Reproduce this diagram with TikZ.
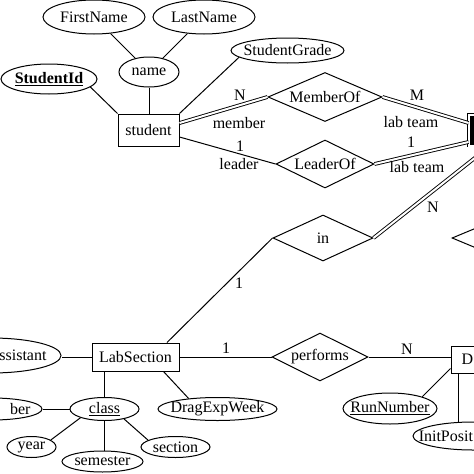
\documentclass[tikz,border=0pt]{standalone}
\usepackage{fontspec}
\setmainfont{Liberation Serif}
\usetikzlibrary{shapes.geometric}
\begin{document}
\begin{tikzpicture}[x=1pt,y=-1pt,line width=1pt,
  every node/.style={font=\fontsize{16}{19}\selectfont},
  attr/.style={ellipse,draw,inner sep=0pt},
  ent/.style={rectangle,draw,inner sep=1pt},
  rel/.style={diamond,draw,inner sep=0pt},
  dbl/.style={double,double distance=2pt,line width=0.9pt},
  lbl/.style={inner sep=0pt}]
\useasboundingbox (0,0) rectangle (474,474);
\clip (0,0) rectangle (474,474);
% ---------- student part ----------
\node[attr,minimum width=102pt,minimum height=34pt,label=center:FirstName] (fn) at (94,17) {};
\node[attr,minimum width=102pt,minimum height=34pt,label=center:LastName] (ln) at (204,17) {};
\node[attr,minimum width=60pt,minimum height=30pt,label=center:name] (nm) at (149,72) {};
\node[attr,minimum width=96pt,minimum height=30pt,label={center:\textbf{\underline{StudentId}}}] (sid) at (49,79) {};
\node[attr,minimum width=113pt,minimum height=25pt,label=center:StudentGrade] (sg) at (287.5,50.5) {};
\node[ent,minimum width=61pt,minimum height=32pt] (st) at (148.5,130) {student};
\node[rel,minimum width=114pt,minimum height=49pt,label=center:MemberOf] (mo) at (325,97) {};
\node[rel,minimum width=98pt,minimum height=48pt,label=center:LeaderOf] (lo) at (325,164) {};
\node[draw,double,double distance=2pt,line width=0.9pt,fill=black,minimum width=80pt,minimum height=31pt,inner sep=0pt] (lt) at (509,130) {};
\node[rel,minimum width=100pt,minimum height=46pt,label=center:in] (inr) at (323,238) {};
\node[rel,minimum width=110pt,minimum height=46pt] (rd) at (507,238) {};
\coordinate (ltb) at (490,146);
% ---------- lab section part ----------
\node[ent,minimum width=87pt,minimum height=28pt] (ls) at (135.5,357) {LabSection};
\node[attr,minimum width=140pt,minimum height=35pt] (asst) at (-9,355.5) {};
\node[lbl,anchor=east] (asstt) at (47,355.5) {ssistant};
\node[attr,minimum width=69pt,minimum height=23pt,label={center:\underline{class}}] (cls) at (104.5,409) {};
\node[attr,minimum width=100pt,minimum height=22pt] (ber) at (-8,409) {};
\node[lbl,anchor=east] (bert) at (31,409) {ber};
\node[attr,minimum width=49pt,minimum height=21pt,label=center:year] (yr) at (31.5,447) {};
\node[attr,minimum width=81pt,minimum height=21pt,label=center:semester] (sem) at (102.5,461.5) {};
\node[attr,minimum width=69pt,minimum height=21pt,label=center:section] (sec) at (175.5,447) {};
\node[attr,minimum width=119pt,minimum height=23pt,label=center:DragExpWeek] (dew) at (217.5,409) {};
\node[rel,minimum width=96pt,minimum height=48pt,label=center:performs] (pf) at (320,357) {};
\node[ent,minimum width=80pt,minimum height=27pt,inner sep=0pt] (dr) at (491,359.5) {};
\node[lbl,anchor=west] (drt) at (461,359.5) {D};
\node[attr,minimum width=94pt,minimum height=31pt,label={center:\underline{RunNumber}}] (rn) at (390,408.5) {};
\node[attr,minimum width=120pt,minimum height=28pt] (ip) at (473,436) {};
\node[lbl,anchor=east] (ipt) at (473.5,436) {InitPosit};
% ---------- connectors ----------
\draw (fn) -- (nm);
\draw (ln) -- (nm);
\draw (nm.south) -- (nm.south |- st.north);
\draw (sid.-11) -- (st.north west);
\draw (sg.188) -- (st.north east);
\draw[dbl] ([yshift=7pt]st.east) -- (mo.west);
\draw ([yshift=-7pt]st.east) -- (lo.west);
\draw[dbl] (mo.east) -- ([yshift=7pt]lt.west);
\draw[dbl] (lo.east) -- ([yshift=-12pt]lt.west);
\draw[dbl] (inr.east) -- (ltb);
\draw ([xshift=31.5pt]ls.north) -- (inr.west);
\draw (ls.east) -- (pf.west);
\draw (pf.east) -- (pf.east -| dr.west);
\draw (ls.west) -- (ls.west -| asst.east);
\draw (ls.south -| cls.north) -- (cls.north);
\draw ([xshift=-16pt]ls.south east) -- (dew.160);
\draw (cls.west) -- (cls.west -| ber.east);
\draw (cls.200) -- (yr.20);
\draw (cls.south) -- (cls.south |- sem.north);
\draw (cls.-27) -- (sec.166);
\draw ([yshift=5pt]dr.south west) -- (rn.20);
\draw ([xshift=8pt]dr.south west) -- ([xshift=8pt]dr.south west |- ip.north);
% ---------- labels ----------
\node[lbl] (lN1) at (240,95) {N};
\node[lbl] (lmem) at (239,123) {member};
\node[lbl] (l1a) at (240,146) {1};
\node[lbl] (llead) at (239,164) {leader};
\node[lbl] (lM) at (417,95) {M};
\node[lbl] (llt1) at (411,122) {lab team};
\node[lbl] (l1b) at (411,142) {1};
\node[lbl] (llt2) at (417,167) {lab team};
\node[lbl] (lN2) at (433,207) {N};
\node[lbl] (l1c) at (239,283) {1};
\node[lbl] (l1d) at (226,348) {1};
\node[lbl] (lN3) at (407,349) {N};
\end{tikzpicture}
\end{document}
